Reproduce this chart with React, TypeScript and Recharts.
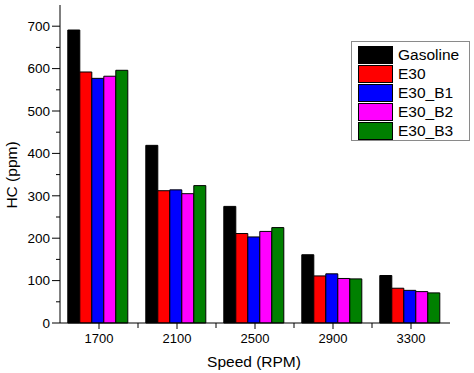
import React from 'react';
import { BarChart, Bar, XAxis, YAxis, Legend } from 'recharts';

const categories = ['1700', '2100', '2500', '2900', '3300'];
const gasoline = [691, 419, 275, 161, 112];
const e30 = [592, 312, 211, 111, 82];
const e30b1 = [577, 314, 203, 116, 77];
const e30b2 = [582, 305, 216, 105, 74];
const e30b3 = [596, 324, 225, 104, 71];
const yTicks = [0, 50, 100, 150, 200, 250, 300, 350, 400, 450, 500, 550, 600, 650, 700];

const seriesDefs = [
  { key: 'Gasoline', values: gasoline, color: '#000000' },
  { key: 'E30', values: e30, color: '#ff0000' },
  { key: 'E30_B1', values: e30b1, color: '#0000ff' },
  { key: 'E30_B2', values: e30b2, color: '#ff00ff' },
  { key: 'E30_B3', values: e30b3, color: '#008000' },
];

const data = categories.map((c, i) => {
  const row: any = { speed: c };
  seriesDefs.forEach((s) => (row[s.key] = s.values[i]));
  return row;
});

const FONT = '"Liberation Sans", Arial, sans-serif';

const YTick = (props: any) => {
  const { x, y, payload } = props;
  const major = payload.value % 100 === 0;
  return (
    <g>
      <line x1={x - (major ? 8 : 4)} x2={x} y1={y} y2={y} stroke="#000" strokeWidth={1} />
      {major && (
        <text x={x - 10} y={y} dy="0.35em" textAnchor="end" fontSize={13.5} fontFamily={FONT} fill="#000">
          {payload.value}
        </text>
      )}
    </g>
  );
};

const XTick = (props: any) => {
  const { x, y, payload, index } = props;
  const half = payload.offset ?? 39;
  return (
    <g>
      <line x1={x} x2={x} y1={y} y2={y + 6} stroke="#000" strokeWidth={1} />
      {index < categories.length - 1 && (
        <line x1={x + half} x2={x + half} y1={y} y2={y + 5} stroke="#000" strokeWidth={1} />
      )}
      <text x={x} y={y + 11} dy="0.71em" textAnchor="middle" fontSize={13} fontFamily={FONT} fill="#000">
        {payload.value}
      </text>
    </g>
  );
};

const LegendBox = () => (
  <div
    style={{
      border: '1px solid #8a8a8a',
      width: 117,
      height: 95,
      boxSizing: 'content-box',
      background: '#fff',
      paddingTop: 3,
    }}
  >
    {seriesDefs.map((s) => (
      <div key={s.key} style={{ display: 'flex', alignItems: 'center', height: 19 }}>
        <div
          style={{
            marginLeft: 6,
            width: 33,
            height: 16,
            background: s.color,
            border: '1px solid #000',
          }}
        />
        <span style={{ marginLeft: 5, fontFamily: FONT, fontSize: 15.5, color: '#000', lineHeight: '19px' }}>
          {s.key}
        </span>
      </div>
    ))}
  </div>
);

export default function App() {
  return (
    <div style={{ position: 'absolute', left: 0, top: 0 }}>
      <BarChart
        width={474}
        height={373}
        data={data}
        margin={{ top: 5, right: 24, bottom: 0, left: 0 }}
        barCategoryGap="10%"
        barGap={0}
      >
        <XAxis
          dataKey="speed"
          tick={<XTick />}
          tickLine={false}
          tickSize={0}
          tickMargin={0}
          height={50}
          axisLine={{ stroke: '#000', strokeWidth: 1 }}
          label={{
            content: ({ viewBox }: any) => (
              <text
                x={viewBox.x + viewBox.width / 2 - 1}
                y={362}
                dy="0.35em"
                textAnchor="middle"
                fontSize={15.5}
                fontFamily={FONT}
                fill="#000"
              >
                Speed (RPM)
              </text>
            ),
          }}
        />
        <YAxis
          domain={[0, 750]}
          ticks={yTicks}
          interval={0}
          tick={<YTick />}
          tickLine={false}
          tickSize={0}
          tickMargin={0}
          width={60}
          axisLine={{ stroke: '#000', strokeWidth: 1 }}
          label={{
            content: () => (
              <text
                x={12}
                y={175}
                dy="0.35em"
                textAnchor="middle"
                fontSize={15.5}
                fontFamily={FONT}
                fill="#000"
                transform="rotate(-90 12 175)"
              >
                HC (ppm)
              </text>
            ),
          }}
        />
        <Legend
          layout="horizontal"
          verticalAlign="middle"
          align="center"
          content={<LegendBox />}
          wrapperStyle={{ position: 'absolute', left: 351, top: 41, width: 'auto' }}
        />
        {seriesDefs.map((s) => (
          <Bar
            key={s.key}
            dataKey={s.key}
            fill={s.color}
            stroke="#000"
            strokeWidth={1}
            isAnimationActive={false}
          />
        ))}
      </BarChart>
    </div>
  );
}
